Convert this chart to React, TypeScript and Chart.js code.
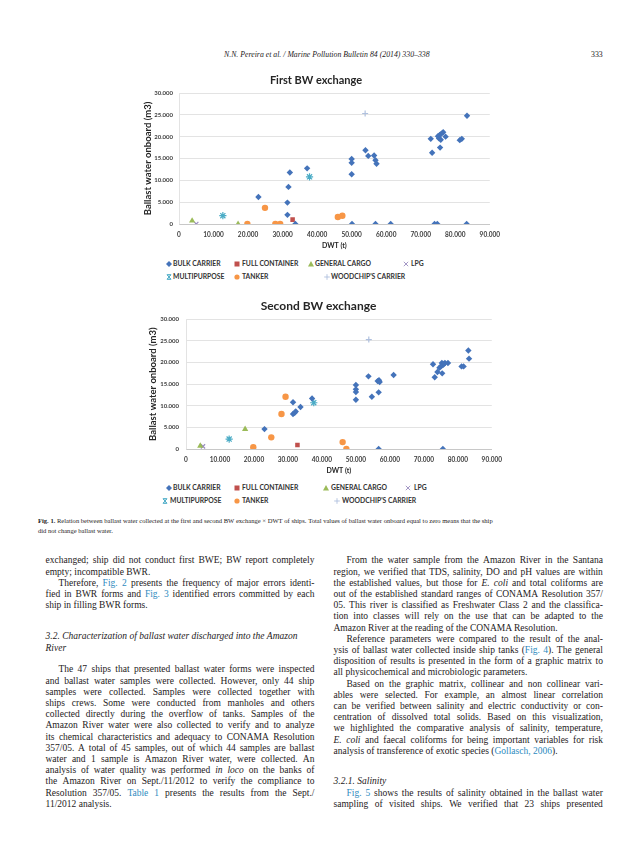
import React, { useEffect, useRef } from "react";
import { Chart, registerables } from "chart.js";
Chart.register(...registerables);

// ---------- DATA ----------
const X_TICKS = [0, 10000, 20000, 30000, 40000, 50000, 60000, 70000, 80000, 90000];
const Y_TICKS = [0, 5000, 10000, 15000, 20000, 25000, 30000];
const SERIES_NAMES = ["BULK CARRIER", "FULL CONTAINER", "GENERAL CARGO", "LPG", "MULTIPURPOSE", "TANKER", "WOODCHIP'S CARRIER"];

// First BW exchange  [DWT, ballast water m3]
const bulkCarrier1: [number, number][] = [
  [23000, 6200], [32100, 11800], [31700, 8500], [31400, 4900], [31400, 2100], [33700, 0],
  [37100, 12750], [50000, 14900], [50000, 14000], [50000, 11400], [50100, 0], [54000, 16900],
  [54800, 15600], [56500, 15700], [56900, 14600], [57200, 13800], [56900, 0], [61300, 0],
  [72900, 19500], [73300, 16300], [74000, 0], [74800, 0], [75000, 20100], [75500, 20400],
  [76000, 20700], [76500, 21000], [75300, 19600], [75800, 19300], [75600, 17500], [77200, 20000],
  [81300, 19200], [81900, 19500], [83300, 0], [83400, 24800],
];
const fullContainer1: [number, number][] = [[32900, 1000]];
const generalCargo1: [number, number][] = [[3800, 750], [17100, 0]];
const lpg1: [number, number][] = [[5000, 0]];
const multipurpose1: [number, number][] = [[12700, 1900], [37800, 10800]];
const tanker1: [number, number][] = [[19800, 0], [24900, 3700], [27900, 0], [29300, 0], [46000, 1600], [47300, 1900]];
const woodchip1: [number, number][] = [[53900, 25300]];

// Second BW exchange
const bulkCarrier2: [number, number][] = [
  [23100, 4600], [31500, 10800], [31500, 8100], [32000, 8400], [32300, 8700], [33700, 9700],
  [37100, 11700], [50000, 14800], [50000, 13800], [50000, 13200], [50000, 11400], [53700, 16800],
  [54700, 12100], [56400, 15700], [56800, 15900], [57000, 15500], [56700, 13100], [56700, 0],
  [61100, 17100], [72700, 19600], [73200, 16600], [74000, 17800], [74600, 18800], [75000, 19100],
  [75300, 19900], [75600, 19400], [75900, 19700], [76200, 19900], [77100, 19900], [75400, 17500],
  [75600, 0], [81100, 19100], [81700, 19100], [83100, 22800], [83300, 20900],
];
const fullContainer2: [number, number][] = [[32800, 900]];
const generalCargo2: [number, number][] = [[4200, 700], [17400, 4600]];
const lpg2: [number, number][] = [[5000, 600]];
const multipurpose2: [number, number][] = [[12700, 2300], [37600, 10700]];
const tanker2: [number, number][] = [[19800, 400], [25100, 2700], [28100, 8100], [29300, 12100], [46100, 1600], [47200, 0]];
const woodchip2: [number, number][] = [[53800, 25300]];

// ---------- STYLES ----------
const CH_FONT = "Lato, 'Open Sans', sans-serif";
const SERIF = "'Liberation Serif', 'DejaVu Serif', serif";
const TEXT = "#1e1a1b";
const LINK = "#2e8bc0";
const STYLES = [
  { kind: "rectRot", color: "#4473BA", r: 3.2 },
  { kind: "rect", color: "#C0504D", r: 3.2 },
  { kind: "triangle", color: "#9BBB59", r: 3.6 },
  { kind: "crossRot", color: "#9A8CC0", r: 3 },
  { kind: "star", color: "#4BACC6", r: 3.6 },
  { kind: "circle", color: "#F79646", r: 3.2 },
  { kind: "cross", color: "#AFC0DE", r: 3 },
];

const fmt = (v: number) => (v === 0 ? "0" : Math.floor(v / 1000) + "." + String(v % 1000).padStart(3, "0"));

type ChartCfg = {
  left: number; top: number; width: number; height: number;
  yW: number; yTickPad: number; yTitlePad: number;
  title: string; titleSize: number; titlePadTop: number; titlePadBottom: number;
  series: [number, number][][];
};

function ScatterChart({ cfg }: { cfg: ChartCfg }) {
  const ref = useRef<HTMLCanvasElement>(null);
  useEffect(() => {
    const chart = new Chart(ref.current!, {
      type: "scatter",
      data: {
        datasets: cfg.series.map((pts, i) => ({
          label: SERIES_NAMES[i],
          data: pts.map(([x, y]) => ({ x, y })),
          pointStyle: STYLES[i].kind as any,
          pointRadius: STYLES[i].r,
          backgroundColor: STYLES[i].color,
          borderColor: STYLES[i].color,
          borderWidth: ["crossRot", "cross", "star"].includes(STYLES[i].kind) ? 1.2 : 0,
        })),
      },
      options: {
        responsive: false,
        animation: false,
        layout: { padding: { left: 0, right: 15, top: 0, bottom: 0 } },
        plugins: {
          legend: { display: false },
          tooltip: { enabled: false },
          title: {
            display: true,
            text: cfg.title,
            color: "#262626",
            font: { family: CH_FONT, size: cfg.titleSize, weight: "bold" },
            padding: { top: cfg.titlePadTop, bottom: cfg.titlePadBottom },
          },
        },
        scales: {
          x: {
            type: "linear",
            min: 0,
            max: 90000,
            afterBuildTicks: (s: any) => { s.ticks = X_TICKS.map((v) => ({ value: v })); },
            afterFit: (s: any) => { s.height = 28; },
            grid: { display: false, drawTicks: false },
            border: { color: "#c8c8c8", width: 1 },
            ticks: {
              padding: 7,
              color: "#404040",
              font: { family: CH_FONT, size: 6.5, weight: "bold" },
              callback: (v: any) => fmt(Number(v)),
              maxRotation: 0,
            },
            title: {
              display: true,
              text: "DWT (t)",
              color: "#262626",
              font: { family: CH_FONT, size: 7, weight: "bold" },
              padding: { top: 0, bottom: 2 },
            },
          },
          y: {
            type: "linear",
            min: 0,
            max: 30000,
            afterBuildTicks: (s: any) => { s.ticks = Y_TICKS.map((v) => ({ value: v })); },
            afterFit: (s: any) => { s.width = cfg.yW; },
            grid: { color: "#dcdcdc", lineWidth: 0.8, drawTicks: false },
            border: { color: "#dcdcdc", width: 0.8 },
            ticks: {
              padding: cfg.yTickPad,
              color: "#404040",
              font: { family: CH_FONT, size: 6, weight: "bold" },
              callback: (v: any) => fmt(Number(v)),
            },
            title: {
              display: true,
              text: "Ballast water onboard (m3)",
              color: "#262626",
              font: { family: CH_FONT, size: 9.5, weight: "bold" },
              padding: { top: cfg.yTitlePad, bottom: 0 },
            },
          },
        },
      },
    });
    return () => chart.destroy();
  }, []);
  return (
    <canvas
      ref={ref}
      width={cfg.width}
      height={cfg.height}
      style={{ position: "absolute", left: cfg.left, top: cfg.top, width: cfg.width, height: cfg.height }}
    />
  );
}

function Marker({ i }: { i: number }) {
  const c = STYLES[i].color;
  const k = STYLES[i].kind;
  let shape: any = null;
  if (k === "rectRot") shape = <polygon points="4,1 7,4 4,7 1,4" fill={c} />;
  else if (k === "rect") shape = <rect x="1.5" y="1.5" width="5" height="5" fill={c} />;
  else if (k === "triangle") shape = <polygon points="4,1 7,6.5 1,6.5" fill={c} />;
  else if (k === "crossRot") shape = <path d="M1.8,1.8L6.2,6.2M6.2,1.8L1.8,6.2" stroke={c} strokeWidth="0.9" />;
  else if (k === "star") shape = <path d="M1.8,1.8L6.2,6.2M6.2,1.8L1.8,6.2M4,1.5L4,6.5M2,1.6L6,1.6M2,6.4L6,6.4" stroke={c} strokeWidth="0.9" />;
  else if (k === "circle") shape = <circle cx="4" cy="4" r="2.6" fill={c} />;
  else shape = <path d="M4,1.2L4,6.8M1.2,4L6.8,4" stroke={c} strokeWidth="0.9" />;
  return <svg width="8" height="8" viewBox="0 0 8 8" style={{ display: "block" }}>{shape}</svg>;
}

type LegendPos = { i: number; mx: number; tx: number; y: number };
function Legend({ items }: { items: LegendPos[] }) {
  return (
    <>
      {items.map((it) => (
        <React.Fragment key={it.i + "-" + it.y}>
          <div style={{ position: "absolute", left: it.mx - 4, top: it.y - 4 }}><Marker i={it.i} /></div>
          <div style={{ position: "absolute", left: it.tx, top: it.y - 5, height: 10, lineHeight: "10px", font: `bold 6.8px ${CH_FONT}`, color: "#333", whiteSpace: "nowrap" }}>
            {SERIES_NAMES[it.i]}
          </div>
        </React.Fragment>
      ))}
    </>
  );
}

// ---------- TEXT ----------
type Run = { t: string; i: boolean; l: boolean; b: boolean };
function parse(s: string): Run[][] {
  const words: Run[][] = [];
  let cur: Run[] = [];
  let i = false, l = false, b = false, buf = "";
  const flush = () => { if (buf) { cur.push({ t: buf, i, l, b }); buf = ""; } };
  for (const ch of s) {
    if (ch === "_") { flush(); i = !i; }
    else if (ch === "*") { flush(); b = !b; }
    else if (ch === "[") { flush(); l = true; }
    else if (ch === "]") { flush(); l = false; }
    else if (ch === " ") { flush(); if (cur.length) words.push(cur); cur = []; }
    else buf += ch;
  }
  flush();
  if (cur.length) words.push(cur);
  return words;
}
const renderRun = (r: Run, k: number) => (
  <span key={k} style={{ fontStyle: r.i ? "italic" : undefined, color: r.l ? LINK : undefined, fontWeight: r.b ? "bold" : undefined }}>{r.t}</span>
);

type LineSpec = { t: string; j?: boolean; ind?: boolean };
function TextBlock({ x, w, y0, lh, size, indent, lines, family = SERIF }: { x: number; w: number; y0: number; lh: number; size: number; indent: number; lines: LineSpec[]; family?: string }) {
  return (
    <>
      {lines.map((ln, k) => {
        const words = parse(ln.t);
        const left = x + (ln.ind ? indent : 0);
        const width = w - (ln.ind ? indent : 0);
        const base: any = {
          position: "absolute", left, top: y0 + k * lh - lh / 2, width, height: lh,
          lineHeight: lh + "px", fontSize: size, fontFamily: family, color: TEXT, whiteSpace: "nowrap",
        };
        if (ln.j) {
          return (
            <div key={k} style={{ ...base, display: "flex", justifyContent: "space-between" }}>
              {words.map((wd, wi) => <span key={wi}>{wd.map(renderRun)}</span>)}
            </div>
          );
        }
        return (
          <div key={k} style={base}>
            {words.map((wd, wi) => <React.Fragment key={wi}>{wi > 0 ? " " : ""}{wd.map(renderRun)}</React.Fragment>)}
          </div>
        );
      })}
    </>
  );
}

const leftA: LineSpec[] = [
  { t: "exchanged; ship did not conduct first BWE; BW report completely", j: true },
  { t: "empty; incompatible BWR." },
  { t: "Therefore, [Fig. 2] presents the frequency of major errors identi-", j: true, ind: true },
  { t: "fied in BWR forms and [Fig. 3] identified errors committed by each", j: true },
  { t: "ship in filling BWR forms." },
];
const leftHead: LineSpec[] = [
  { t: "_3.2. Characterization of ballast water discharged into the Amazon_" },
  { t: "_River_" },
];
const leftB: LineSpec[] = [
  { t: "The 47 ships that presented ballast water forms were inspected", j: true, ind: true },
  { t: "and ballast water samples were collected. However, only 44 ship", j: true },
  { t: "samples were collected. Samples were collected together with", j: true },
  { t: "ships crews. Some were conducted from manholes and others", j: true },
  { t: "collected directly during the overflow of tanks. Samples of the", j: true },
  { t: "Amazon River water were also collected to verify and to analyze", j: true },
  { t: "its chemical characteristics and adequacy to CONAMA Resolution", j: true },
  { t: "357/05. A total of 45 samples, out of which 44 samples are ballast", j: true },
  { t: "water and 1 sample is Amazon River water, were collected. An", j: true },
  { t: "analysis of water quality was performed _in loco_ on the banks of", j: true },
  { t: "the Amazon River on Sept./11/2012 to verify the compliance to", j: true },
  { t: "Resolution 357/05. [Table 1] presents the results from the Sept./", j: true },
  { t: "11/2012 analysis." },
];
const rightA: LineSpec[] = [
  { t: "From the water sample from the Amazon River in the Santana", j: true, ind: true },
  { t: "region, we verified that TDS, salinity, DO and pH values are within", j: true },
  { t: "the established values, but those for _E. coli_ and total coliforms are", j: true },
  { t: "out of the established standard ranges of CONAMA Resolution 357/", j: true },
  { t: "05. This river is classified as Freshwater Class 2 and the classifica-", j: true },
  { t: "tion into classes will rely on the use that can be adapted to the", j: true },
  { t: "Amazon River at the reading of the CONAMA Resolution." },
  { t: "Reference parameters were compared to the result of the anal-", j: true, ind: true },
  { t: "ysis of ballast water collected inside ship tanks ([Fig. 4]). The general", j: true },
  { t: "disposition of results is presented in the form of a graphic matrix to", j: true },
  { t: "all physicochemical and microbiologic parameters." },
  { t: "Based on the graphic matrix, collinear and non collinear vari-", j: true, ind: true },
  { t: "ables were selected. For example, an almost linear correlation", j: true },
  { t: "can be verified between salinity and electric conductivity or con-", j: true },
  { t: "centration of dissolved total solids. Based on this visualization,", j: true },
  { t: "we highlighted the comparative analysis of salinity, temperature,", j: true },
  { t: "_E. coli_ and faecal coliforms for being important variables for risk", j: true },
  { t: "analysis of transference of exotic species ([Gollasch, 2006])." },
];
const rightHead: LineSpec[] = [{ t: "_3.2.1. Salinity_" }];
const rightB: LineSpec[] = [
  { t: "[Fig. 5] shows the results of salinity obtained in the ballast water", j: true, ind: true },
  { t: "sampling of visited ships. We verified that 23 ships presented", j: true },
];
const caption: LineSpec[] = [
  { t: "*Fig. 1.* Relation between ballast water collected at the first and second BW exchange × DWT of ships. Total values of ballast water onboard equal to zero means that the ship", j: true },
  { t: "did not change ballast water." },
];

const chart1: ChartCfg = {
  left: 140, top: 68, width: 367, height: 184, yW: 39, yTickPad: 6, yTitlePad: 2.3,
  title: "First BW exchange", titleSize: 11, titlePadTop: 5.5, titlePadBottom: 6.3,
  series: [bulkCarrier1, fullContainer1, generalCargo1, lpg1, multipurpose1, tanker1, woodchip1],
};
const chart2: ChartCfg = {
  left: 143, top: 295, width: 366, height: 182, yW: 43, yTickPad: 7, yTitlePad: 4,
  title: "Second BW exchange", titleSize: 12, titlePadTop: 3.8, titlePadBottom: 6.1,
  series: [bulkCarrier2, fullContainer2, generalCargo2, lpg2, multipurpose2, tanker2, woodchip2],
};

const legend1: LegendPos[] = [
  { i: 0, mx: 169, tx: 173, y: 264.3 }, { i: 1, mx: 237, tx: 242, y: 264.3 },
  { i: 2, mx: 311, tx: 315, y: 264.3 }, { i: 3, mx: 406, tx: 411, y: 264.3 },
  { i: 4, mx: 169, tx: 173, y: 276.7 }, { i: 5, mx: 237, tx: 242, y: 276.7 },
  { i: 6, mx: 327, tx: 331, y: 276.7 },
];
const legend2: LegendPos[] = [
  { i: 0, mx: 169, tx: 173, y: 488.3 }, { i: 1, mx: 237, tx: 242, y: 488.3 },
  { i: 2, mx: 326, tx: 331, y: 488.3 }, { i: 3, mx: 408, tx: 414, y: 488.3 },
  { i: 4, mx: 165, tx: 170, y: 500.7 }, { i: 5, mx: 237, tx: 242, y: 500.7 },
  { i: 6, mx: 337, tx: 342, y: 500.7 },
];

export default function App() {
  const LH = 11.2;
  const BODY = 9.5;
  return (
    <div style={{ position: "absolute", left: 0, top: 0, width: 638, height: 851, background: "#fff", overflow: "hidden" }}>
      <div style={{ position: "absolute", left: 224, top: 50, height: 10, lineHeight: "10px", font: `italic 7.8px ${SERIF}`, color: TEXT, whiteSpace: "nowrap" }}>
        N.N. Pereira et al. / Marine Pollution Bulletin 84 (2014) 330–338
      </div>
      <div style={{ position: "absolute", left: 591, top: 50, height: 10, lineHeight: "10px", font: `7.8px ${SERIF}`, color: TEXT }}>333</div>

      <ScatterChart cfg={chart1} />
      <Legend items={legend1} />
      <ScatterChart cfg={chart2} />
      <Legend items={legend2} />

      <TextBlock x={38} w={455} y0={521} lh={10.7} size={6.55} indent={0} lines={caption} />

      <TextBlock x={45.5} w={269} y0={561} lh={LH} size={BODY} indent={13} lines={leftA} />
      <TextBlock x={45.5} w={269} y0={637} lh={LH} size={BODY} indent={13} lines={leftHead} />
      <TextBlock x={45.5} w={269} y0={670} lh={LH} size={BODY} indent={13} lines={leftB} />
      <TextBlock x={333.5} w={269.5} y0={561} lh={LH} size={BODY} indent={13} lines={rightA} />
      <TextBlock x={333.5} w={269.5} y0={782} lh={LH} size={BODY} indent={13} lines={rightHead} />
      <TextBlock x={333.5} w={269.5} y0={793.2} lh={LH} size={BODY} indent={13} lines={rightB} />
    </div>
  );
}
